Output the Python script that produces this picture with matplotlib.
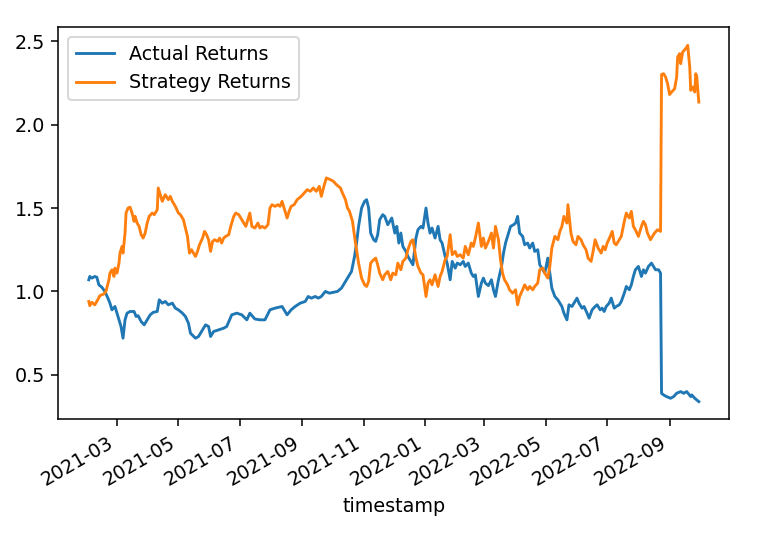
import matplotlib
matplotlib.use("Agg")
import matplotlib.pyplot as plt
import matplotlib.dates as mdates
import pandas as pd

start_date = "2021-02-01"

actual_days = [0, 1, 3, 6, 8, 10, 13, 16, 19, 21, 23, 26, 28, 30, 32, 34, 36, 38, 41, 45,
               47, 49, 52, 55, 58, 61, 64, 68, 70, 73, 76, 79, 83, 86, 89, 93, 96, 99, 101, 106,
               109, 112, 116, 119, 121, 124, 129, 134, 137, 142, 147, 152, 157, 160, 165, 170, 175, 180, 185, 192,
               197, 201, 205, 210, 215, 218, 221, 225, 228, 231, 235, 239, 243, 247, 251, 255, 258, 261, 264, 266,
               268, 271, 274, 276, 278, 280, 283, 285, 287, 289, 292, 294, 297, 301, 304, 306, 308, 310, 312, 315,
               317, 320, 322, 325, 327, 330, 332, 335, 337, 339, 341, 344, 347, 349, 351, 354, 356, 359, 361, 364,
               366, 369, 372, 374, 377, 380, 382, 384, 387, 390, 392, 394, 397, 400, 402, 404, 407, 410, 412, 414,
               417, 419, 422, 424, 426, 428, 431, 433, 436, 438, 441, 443, 446, 448, 451, 453, 456, 458, 460, 463,
               466, 468, 470, 472, 475, 477, 480, 482, 485, 487, 490, 492, 495, 497, 500, 503, 505, 508, 510, 512,
               514, 517, 519, 522, 524, 527, 529, 532, 534, 537, 539, 541, 543, 546, 549, 551, 553, 556, 559, 561,
               563, 566, 568, 569, 571, 574, 578, 581, 584, 588, 591, 594, 598, 599, 602, 604, 606]
actual_returns = [1.07, 1.09, 1.08, 1.09, 1.085, 1.04, 1.025, 1.00, 0.96, 0.93, 0.89, 0.91, 0.87, 0.83, 0.79, 0.72, 0.83, 0.87, 0.88, 0.88,
                  0.85, 0.855, 0.82, 0.80, 0.83, 0.86, 0.875, 0.88, 0.95, 0.93, 0.94, 0.92, 0.93, 0.90, 0.89, 0.87, 0.85, 0.81, 0.75, 0.72,
                  0.73, 0.76, 0.80, 0.79, 0.73, 0.76, 0.77, 0.78, 0.79, 0.86, 0.87, 0.86, 0.83, 0.87, 0.835, 0.83, 0.83, 0.89, 0.90, 0.91,
                  0.86, 0.89, 0.91, 0.93, 0.94, 0.97, 0.96, 0.97, 0.96, 0.97, 1.00, 0.99, 0.995, 1.00, 1.02, 1.06, 1.09, 1.12, 1.21, 1.29,
                  1.39, 1.50, 1.54, 1.55, 1.50, 1.35, 1.31, 1.30, 1.34, 1.43, 1.46, 1.45, 1.40, 1.44, 1.35, 1.39, 1.29, 1.35, 1.27, 1.24,
                  1.21, 1.18, 1.16, 1.32, 1.37, 1.39, 1.38, 1.50, 1.41, 1.35, 1.38, 1.32, 1.39, 1.31, 1.29, 1.21, 1.17, 1.07, 1.18, 1.14,
                  1.17, 1.16, 1.18, 1.15, 1.17, 1.11, 1.09, 1.10, 0.97, 1.05, 1.08, 1.05, 1.035, 1.07, 1.01, 0.97, 1.07, 1.15, 1.23, 1.29,
                  1.35, 1.39, 1.40, 1.41, 1.45, 1.35, 1.33, 1.28, 1.29, 1.26, 1.29, 1.24, 1.25, 1.16, 1.13, 1.11, 1.20, 1.11, 1.02, 0.97,
                  0.95, 0.93, 0.91, 0.87, 0.83, 0.92, 0.91, 0.93, 0.96, 0.93, 0.90, 0.91, 0.87, 0.84, 0.89, 0.91, 0.92, 0.89, 0.90, 0.88,
                  0.91, 0.93, 0.96, 0.90, 0.91, 0.92, 0.94, 0.99, 1.03, 1.01, 1.04, 1.09, 1.13, 1.15, 1.09, 1.13, 1.11, 1.15, 1.17, 1.15,
                  1.13, 1.13, 1.11, 0.39, 0.38, 0.37, 0.36, 0.37, 0.39, 0.40, 0.39, 0.40, 0.37, 0.38, 0.36, 0.35, 0.34]

strategy_days = [0, 1, 3, 6, 8, 11, 15, 17, 20, 21, 23, 25, 26, 28, 30, 31, 33, 34, 36, 37,
                 39, 41, 43, 45, 46, 48, 50, 52, 54, 56, 58, 60, 63, 65, 68, 69, 71, 73, 76, 79,
                 81, 83, 86, 89, 91, 94, 98, 100, 102, 104, 106, 108, 110, 113, 115, 117, 119, 121, 123, 125,
                 128, 130, 132, 134, 136, 139, 141, 144, 146, 149, 151, 153, 156, 158, 160, 162, 165, 168, 170, 172,
                 175, 178, 180, 182, 185, 188, 190, 192, 194, 197, 199, 201, 204, 207, 211, 214, 217, 220, 223, 226,
                 229, 231, 234, 236, 240, 243, 246, 250, 252, 255, 257, 259, 262, 264, 266, 268, 271, 274, 276, 278,
                 280, 283, 285, 287, 289, 292, 294, 297, 300, 302, 305, 307, 310, 312, 315, 317, 320, 322, 325, 327,
                 330, 332, 335, 337, 339, 341, 344, 347, 349, 351, 354, 356, 359, 361, 364, 366, 369, 372, 374, 377,
                 380, 382, 384, 387, 390, 392, 394, 397, 400, 402, 404, 407, 409, 411, 413, 416, 418, 421, 424, 426,
                 428, 431, 433, 436, 438, 441, 443, 446, 448, 451, 453, 456, 458, 460, 463, 466, 468, 470, 472, 475,
                 476, 479, 481, 484, 486, 489, 491, 494, 496, 499, 501, 503, 506, 509, 511, 513, 515, 518, 520, 522,
                 524, 527, 529, 532, 534, 537, 539, 541, 543, 546, 549, 551, 553, 555, 558, 560, 562, 565, 568, 569,
                 571, 573, 575, 577, 579, 582, 584, 585, 587, 588, 590, 593, 595, 597, 598, 600, 602, 603, 604, 606]
strategy_returns = [0.94, 0.915, 0.935, 0.92, 0.94, 0.975, 0.985, 1.00, 1.07, 1.11, 1.13, 1.09, 1.14, 1.11, 1.17, 1.23, 1.27, 1.23, 1.35, 1.47,
                    1.50, 1.505, 1.47, 1.42, 1.45, 1.41, 1.39, 1.34, 1.32, 1.35, 1.41, 1.45, 1.47, 1.46, 1.49, 1.62, 1.58, 1.54, 1.58, 1.55,
                    1.57, 1.54, 1.51, 1.47, 1.46, 1.43, 1.33, 1.23, 1.25, 1.23, 1.21, 1.24, 1.28, 1.32, 1.36, 1.34, 1.31, 1.24, 1.30, 1.31,
                    1.30, 1.32, 1.29, 1.32, 1.33, 1.34, 1.39, 1.45, 1.47, 1.46, 1.44, 1.42, 1.39, 1.43, 1.47, 1.39, 1.38, 1.41, 1.38, 1.39,
                    1.38, 1.40, 1.50, 1.52, 1.51, 1.52, 1.51, 1.54, 1.50, 1.44, 1.48, 1.51, 1.52, 1.55, 1.57, 1.59, 1.61, 1.60, 1.62, 1.60,
                    1.63, 1.57, 1.64, 1.68, 1.67, 1.66, 1.64, 1.62, 1.59, 1.55, 1.50, 1.48, 1.42, 1.33, 1.25, 1.17, 1.08, 1.04, 1.03, 1.06,
                    1.17, 1.19, 1.20, 1.16, 1.11, 1.07, 1.10, 1.12, 1.07, 1.11, 1.10, 1.17, 1.13, 1.18, 1.20, 1.25, 1.30, 1.31, 1.20, 1.15,
                    1.11, 1.10, 0.97, 1.05, 1.07, 1.04, 1.10, 1.03, 1.09, 1.12, 1.19, 1.21, 1.34, 1.22, 1.24, 1.21, 1.22, 1.20, 1.27, 1.22,
                    1.29, 1.27, 1.32, 1.41, 1.27, 1.32, 1.26, 1.30, 1.35, 1.26, 1.39, 1.31, 1.19, 1.11, 1.07, 1.04, 1.01, 0.99, 1.01, 0.92,
                    0.97, 1.01, 1.04, 1.01, 1.03, 1.01, 1.03, 1.05, 1.13, 1.14, 1.11, 1.08, 1.15, 1.26, 1.33, 1.31, 1.36, 1.39, 1.45, 1.41,
                    1.52, 1.35, 1.30, 1.28, 1.33, 1.31, 1.28, 1.25, 1.20, 1.18, 1.24, 1.31, 1.26, 1.23, 1.27, 1.25, 1.29, 1.33, 1.36, 1.29,
                    1.28, 1.31, 1.33, 1.42, 1.47, 1.44, 1.48, 1.39, 1.37, 1.33, 1.39, 1.42, 1.40, 1.35, 1.31, 1.33, 1.35, 1.37, 1.36, 2.30,
                    2.305, 2.285, 2.245, 2.18, 2.195, 2.215, 2.285, 2.405, 2.425, 2.365, 2.435, 2.455, 2.475, 2.345, 2.205, 2.225, 2.195, 2.305, 2.285, 2.135]

y_ticks = [0.5, 1.0, 1.5, 2.0, 2.5]
series_labels = ["Actual Returns", "Strategy Returns"]
x_label = "timestamp"

base = pd.Timestamp(start_date)
actual_dates = base + pd.to_timedelta(actual_days, unit="D")
strategy_dates = base + pd.to_timedelta(strategy_days, unit="D")

fig = plt.figure(figsize=(760 / 138, 538 / 138), dpi=138)
ax = fig.add_axes([0.0767, 0.2204, 0.8829, 0.7285])
ax.plot(actual_dates, actual_returns, color="#1f77b4", lw=1.5, label=series_labels[0])
ax.plot(strategy_dates, strategy_returns, color="#ff7f0e", lw=1.5, label=series_labels[1])

ax.xaxis.set_major_locator(mdates.MonthLocator(bymonth=[1, 3, 5, 7, 9, 11]))
ax.xaxis.set_major_formatter(mdates.DateFormatter("%Y-%m"))
for lbl in ax.get_xticklabels():
    lbl.set_rotation(30)
    lbl.set_ha("right")
ax.set_yticks(y_ticks)
ax.set_xlabel(x_label)
ax.legend(loc="upper left")

fig.savefig("out.png", dpi=138)
